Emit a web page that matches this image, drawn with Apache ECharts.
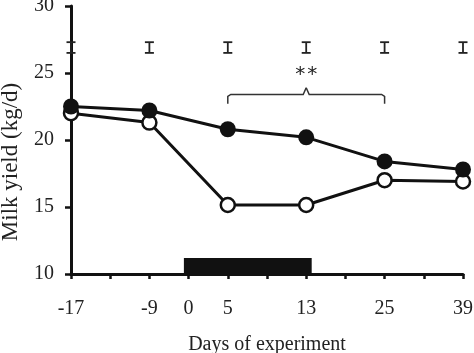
<!DOCTYPE html>
<html><head><meta charset="utf-8">
<script src="https://cdn.jsdelivr.net/npm/echarts@6/dist/echarts.min.js"></script>
<style>html,body{margin:0;padding:0;background:#fff}#c{width:474px;height:353px}</style>
</head><body><div id="c"></div>
<script>
// x categories: half-step slots; empty strings are unlabeled minor slots
var xCategories = ['-17', '', '-9', '0', '5', '', '13', '', '25', '', '39'];
var filledValues = [22.5, null, 22.2, null, 20.8, null, 20.2, null, 18.4, null, 17.8];
var openValues   = [22.0, null, 21.3, null, 15.15, null, 15.15, null, 17.0, null, 16.9];
var errLow  = [26.5, null, 26.5, null, 26.5, null, 26.5, null, 26.5, null, 26.5];
var errHigh = [27.3, null, 27.3, null, 27.3, null, 27.3, null, 27.3, null, 27.3];
var yTicks = [10, 15, 20, 25, 30];
// treatment period bar (in category-slot units) and height
var periodStart = 2.88, periodEnd = 6.14, periodTop = 11.2;
// significance bracket: from slot 4 (day 5) to slot 8 (day 25)
var bracketFrom = 4, bracketTo = 8, bracketMid = 6;
var bracketLow = 22.7, bracketHigh = 23.4, bracketPeak = 23.9;
var sigLabel = '**', sigY = 24.9;

var serif = '"Liberation Serif", "Times New Roman", serif';
var chart = echarts.init(document.getElementById('c'));
var errData = [];
for (var i = 0; i < xCategories.length; i++) if (errLow[i] != null) errData.push([i, errLow[i], errHigh[i]]);

chart.setOption({
  animation: false,
  grid: {left: 71, right: 11, top: 6, bottom: 79, outerBoundsMode: 'none', containLabel: false},
  xAxis: [{
    type: 'category', data: xCategories, boundaryGap: false,
    axisLine: {lineStyle: {color: '#111', width: 3}},
    axisTick: {show: true, length: 5, lineStyle: {color: '#111', width: 2.5}, interval: 0},
    axisLabel: {interval: 0, color: '#222', fontFamily: serif, fontSize: 20, margin: 25},
    splitLine: {show: false},
    name: 'Days of experiment', nameLocation: 'middle', nameGap: 61,
    nameTextStyle: {fontFamily: serif, fontSize: 20, color: '#222'}
  }, {
    type: 'value', min: 0, max: xCategories.length - 1, show: false
  }],
  yAxis: {
    type: 'value', min: 10, max: 30, interval: 5,
    axisLine: {show: true, lineStyle: {color: '#111', width: 3}},
    axisTick: {show: true, length: 6, lineStyle: {color: '#111', width: 2.5}},
    axisLabel: {color: '#222', fontFamily: serif, fontSize: 20, margin: 17,
      formatter: function (v) { return yTicks.indexOf(v) >= 0 ? String(v) : ''; }},
    splitLine: {show: false},
    name: 'Milk yield (kg/d)', nameLocation: 'middle', nameGap: 49,
    nameTextStyle: {fontFamily: serif, fontSize: 23, color: '#222', padding: [0, 44, 0, 0]}
  },
  series: [
    {
      type: 'line', xAxisIndex: 1, data: [], silent: true,
      markArea: {silent: true, itemStyle: {color: '#111'},
        data: [[{coord: [periodStart, 10]}, {coord: [periodEnd, periodTop]}]]}
    },
    {
      type: 'custom', data: errData, z: 5,
      renderItem: function (params, api) {
        var lo = api.coord([api.value(0), api.value(1)]);
        var hi = api.coord([api.value(0), api.value(2)]);
        var w = 4.5, s = {stroke: '#222', lineWidth: 1.8};
        return {type: 'group', children: [
          {type: 'line', shape: {x1: lo[0], y1: lo[1], x2: hi[0], y2: hi[1]}, style: s},
          {type: 'line', shape: {x1: lo[0] - w, y1: lo[1], x2: lo[0] + w, y2: lo[1]}, style: s},
          {type: 'line', shape: {x1: hi[0] - w, y1: hi[1], x2: hi[0] + w, y2: hi[1]}, style: s}
        ]};
      }
    },
    {
      type: 'custom', data: [[bracketFrom, bracketTo, bracketMid]], z: 5,
      renderItem: function (params, api) {
        var a = api.coord([api.value(0), bracketLow]);
        var a2 = api.coord([api.value(0), bracketHigh]);
        var b = api.coord([api.value(1), bracketLow]);
        var b2 = api.coord([api.value(1), bracketHigh]);
        var m = api.coord([api.value(2), bracketHigh]);
        var m2 = api.coord([api.value(2), bracketPeak]);
        var t = api.coord([api.value(2), sigY]);
        var s = {stroke: '#333', lineWidth: 1.5, fill: null};
        return {type: 'group', children: [
          {type: 'polyline', shape: {points: [a, [a2[0], a2[1] + 2], [a2[0] + 3, a2[1]], [m[0] - 3, m[1]], m2]}, style: s},
          {type: 'polyline', shape: {points: [b, [b2[0], b2[1] + 2], [b2[0] - 3, b2[1]], [m[0] + 3, m[1]], m2]}, style: s},
          {type: 'text', style: {text: sigLabel, x: t[0], y: t[1], align: 'center', verticalAlign: 'middle',
            font: '20px "DejaVu Sans Mono", monospace', fill: '#222'}}
        ]};
      }
    },
    {
      type: 'line', data: openValues, connectNulls: true, z: 3,
      symbol: 'circle', symbolSize: 14, showSymbol: true,
      lineStyle: {color: '#111', width: 3},
      itemStyle: {color: '#fff', borderColor: '#111', borderWidth: 2.5}
    },
    {
      type: 'line', data: filledValues, connectNulls: true, z: 4,
      symbol: 'circle', symbolSize: 16, showSymbol: true,
      lineStyle: {color: '#111', width: 3},
      itemStyle: {color: '#111', borderColor: '#111', borderWidth: 0}
    }
  ]
});
</script></body></html>
